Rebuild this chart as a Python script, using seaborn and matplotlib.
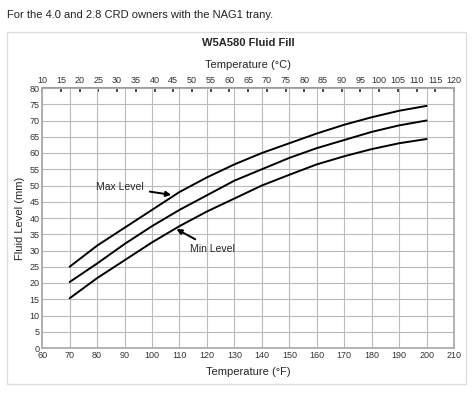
import matplotlib
matplotlib.use('Agg')
import matplotlib.pyplot as plt
import matplotlib.patches as patches
import seaborn as sns
import pandas as pd

temp_f = [70, 80, 90, 100, 110, 120, 130, 140, 150, 160, 170, 180, 190, 200]
max_level = [25, 31.5, 37, 42.5, 48, 52.5, 56.5, 60, 63, 66, 68.7, 71, 73, 74.5]
mid_level = [20.3, 26, 32, 37.5, 42.5, 47, 51.5, 55, 58.5, 61.5, 64, 66.5, 68.5, 70]
min_level = [15.3, 21.5, 27, 32.5, 37.5, 42, 46, 50, 53.3, 56.5, 59, 61.2, 63, 64.3]
c_ticks = [10, 15, 20, 25, 30, 35, 40, 45, 50, 55, 60, 65, 70, 75, 80, 85, 90, 95, 100, 105, 110, 115, 120]

df = pd.DataFrame({'F': temp_f, 'max': max_level, 'mid': mid_level, 'min': min_level})

sns.set_theme(style='white')
plt.rcParams['font.family'] = ['Liberation Sans', 'DejaVu Sans']

fig = plt.figure(figsize=(4.74, 4.0), dpi=100)
fig.text(0.015, 0.975, 'For the 4.0 and 2.8 CRD owners with the NAG1 trany.',
         fontsize=8, va='top', color='#222222')
fig.patches.append(patches.Rectangle((0.015, 0.04), 0.968, 0.88, transform=fig.transFigure,
                                     fill=False, edgecolor='#dddddd', lw=1))

ax = fig.add_axes([0.089, 0.13, 0.869, 0.65])
for col in ['max', 'mid', 'min']:
    sns.lineplot(data=df, x='F', y=col, ax=ax, color='black', lw=1.4,
                 solid_joinstyle='round', solid_capstyle='round')

ax.set_xlim(60, 210)
ax.set_ylim(0, 80)
ax.set_xticks(range(60, 211, 10))
ax.set_yticks(range(0, 81, 5))
ax.grid(True, color='#bbbbbb', lw=0.8)
for s in ax.spines.values():
    s.set_color('#aaaaaa')
ax.tick_params(labelsize=6.5, colors='#333333', length=0, pad=2)
ax.set_xlabel('Temperature (°F)', fontsize=8, labelpad=5)
ax.set_ylabel('Fluid Level (mm)', fontsize=8, labelpad=3)

# top celsius axis (evenly spaced as printed)
top = ax.secondary_xaxis('top', functions=(lambda f: 10 + (f - 60) * 110 / 150,
                                            lambda c: 60 + (c - 10) * 150 / 110))
top.set_xticks(c_ticks)
top.tick_params(labelsize=6.5, colors='#333333', length=3, direction='in', pad=2)
top.set_xlabel('Temperature (°C)', fontsize=8, labelpad=6)

ax.set_title('W5A580 Fluid Fill', fontsize=8, fontweight='bold', pad=30)

ax.annotate('Max Level', xy=(108, 47), xytext=(97, 49.5), fontsize=7.5,
            ha='right', va='center',
            arrowprops=dict(arrowstyle='-|>', color='black', lw=1.4))
ax.annotate('Min Level', xy=(108, 37), xytext=(114, 30.5), fontsize=7.5,
            ha='left', va='center',
            arrowprops=dict(arrowstyle='-|>', color='black', lw=1.4))

plt.savefig('out.png', dpi=100)
plt.close()
